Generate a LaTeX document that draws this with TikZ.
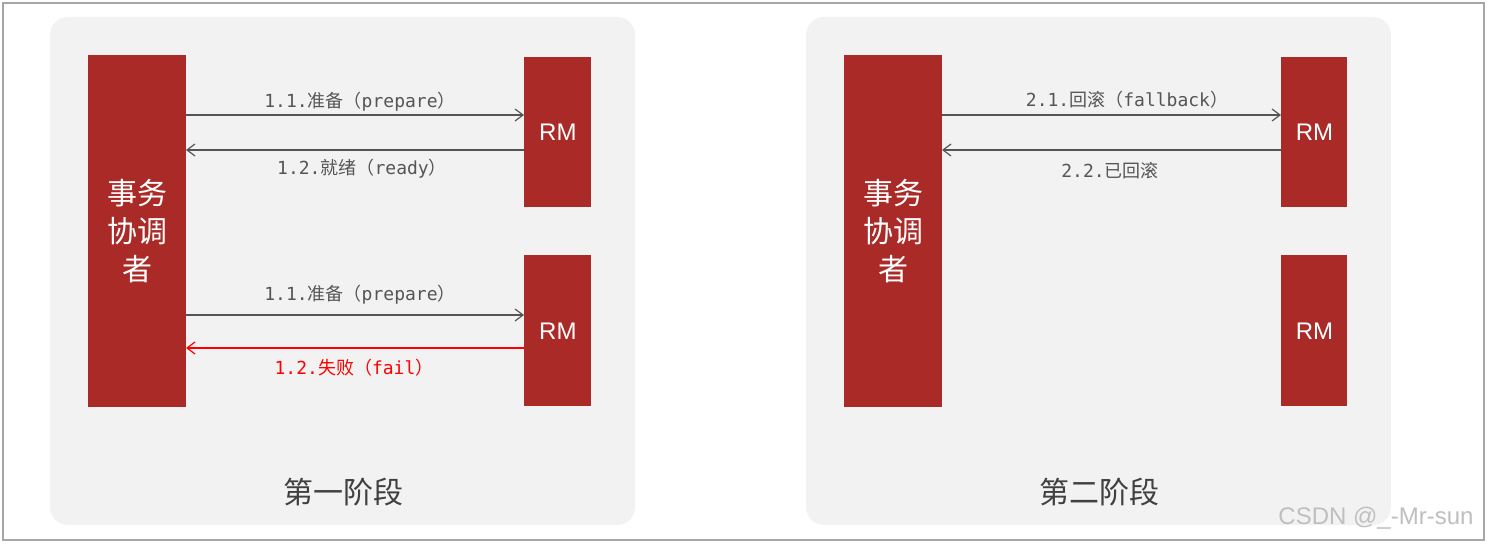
\documentclass[tikz,border=0pt]{standalone}
\usepackage{fontspec}
\newfontfamily\cjk{Noto Sans CJK SC}
\newfontfamily\mono{DejaVu Sans Mono}
\setmainfont{Liberation Sans}
\usetikzlibrary{arrows.meta}
\definecolor{boxred}{HTML}{A92A27}
\definecolor{panel}{HTML}{F2F2F2}
\definecolor{ln}{HTML}{555555}
\tikzset{
  panelbox/.style={fill=panel,draw=none,rounded corners=9pt},
  redbox/.style={fill=boxred,draw=none},
  msg/.style={draw=ln,line width=0.6pt,-{Straight Barb[length=4pt,width=6pt]}},
  lbl/.style={text=ln,font=\fontsize{9}{10}\selectfont,inner sep=0pt},
  big/.style={text=white,font=\cjk\fontsize{15}{19}\selectfont,align=center},
  rm/.style={text=white,font=\fontsize{12}{14}\selectfont},
  stage/.style={text=black!75,font=\cjk\fontsize{15}{17}\selectfont}
}
\newcommand{\mx}[2]{{\mono #1}{\cjk #2}}
\begin{document}
\begin{tikzpicture}[x=0.5pt,y=-0.5pt]
\useasboundingbox (0,0) rectangle (1488,545);
\fill[white] (0,0) rectangle (1488,545);
\draw[black!35,line width=0.6pt] (3,3) rectangle (1484,540);
% left panel
\fill[panelbox] (50,17) rectangle (635,525);
\node[redbox,minimum width=49pt,minimum height=176pt,anchor=north west] (tc1) at (88,55) {};
\node[big] at (tc1) {事务\\协调\\者};
\node[redbox,minimum width=33.5pt,minimum height=75pt,anchor=north west] (rm1) at (524,57) {};
\node[rm] at (rm1) {RM};
\node[redbox,minimum width=33.5pt,minimum height=75.5pt,anchor=north west] (rm2) at (524,255) {};
\node[rm] at (rm2) {RM};
\coordinate (a1) at (186,115); \coordinate (b1) at (524,115);
\coordinate (a2) at (186,150); \coordinate (b2) at (524,150);
\coordinate (a3) at (186,315); \coordinate (b3) at (524,315);
\coordinate (a4) at (186,348); \coordinate (b4) at (524,348);
\draw[msg] (a1) -- (b1);
\draw[msg] (b2) -- (a2);
\draw[msg] (a3) -- (b3);
\draw[msg,draw=red] (b4) -- (a4);
\node[lbl] (l1) at (360,102) {\mx{1.1.}{准备（}\mx{prepare}{）}};
\node[lbl] (l2) at (362,169) {\mx{1.2.}{就绪（}\mx{ready}{）}};
\node[lbl] (l3) at (360,295) {\mx{1.1.}{准备（}\mx{prepare}{）}};
\node[lbl,text=red] (l4) at (354,368) {\mx{1.2.}{失败（}\mx{fail}{）}};
\node[stage] (s1) at (343,492) {第一阶段};
% right panel
\fill[panelbox] (806,17) rectangle (1391,525);
\node[redbox,minimum width=49pt,minimum height=176pt,anchor=north west] (tc2) at (844,55) {};
\node[big] at (tc2) {事务\\协调\\者};
\node[redbox,minimum width=33pt,minimum height=75pt,anchor=north west] (rm3) at (1281,57) {};
\node[rm] at (rm3) {RM};
\node[redbox,minimum width=33pt,minimum height=75.5pt,anchor=north west] (rm4) at (1281,255) {};
\node[rm] at (rm4) {RM};
\coordinate (c1) at (942,115); \coordinate (d1) at (1281,115);
\coordinate (c2) at (942,150); \coordinate (d2) at (1281,150);
\draw[msg] (c1) -- (d1);
\draw[msg] (d2) -- (c2);
\node[lbl] (l5) at (1127,100) {\mx{2.1.}{回滚（}\mx{fallback}{）}};
\node[lbl] (l6) at (1110,171) {\mx{2.2.}{已回滚}};
\node[stage] (s2) at (1099,492) {第二阶段};
\node[text=black!25,font=\fontsize{12}{14}\selectfont] (wm) at (1376,518) {CSDN @\_-Mr-sun};
\end{tikzpicture}
\end{document}
